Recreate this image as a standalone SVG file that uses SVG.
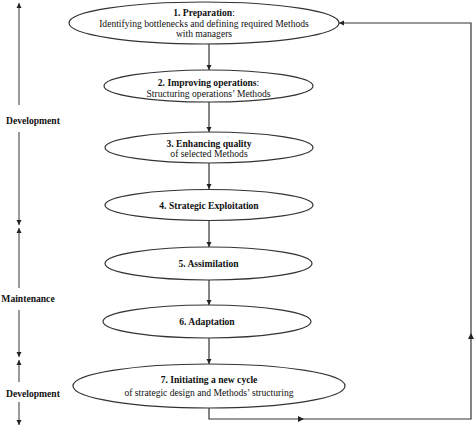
<svg xmlns="http://www.w3.org/2000/svg" width="474" height="428" viewBox="0 0 474 428">
<style>
  .n ellipse { fill: #fff; stroke: #333; stroke-width: 1.2; }
  text { font-family: "Liberation Serif", "Times New Roman", serif; font-size: 9.6px; fill: #111; text-anchor: middle; }
  .b { font-weight: bold; }
  .c line, .c path.l { stroke: #333; stroke-width: 1.2; fill: none; }
  .c path.h { fill: #222; stroke: none; }
  .t line { stroke: #555; stroke-width: 1.2; }
</style>
<defs>
  <marker id="ah" viewBox="0 0 10 10" refX="10" refY="5" markerWidth="5" markerHeight="6" orient="auto" markerUnits="userSpaceOnUse">
    <path d="M0,0 L10,5 L0,10 z" fill="#222"/>
  </marker>
</defs>
<rect width="474" height="428" fill="#fff"/>

<g class="c" id="connectors">
  <line x1="209" y1="44" x2="209" y2="70" marker-end="url(#ah)"/>
  <line x1="209" y1="101" x2="209" y2="132" marker-end="url(#ah)"/>
  <line x1="209" y1="163" x2="209" y2="189" marker-end="url(#ah)"/>
  <line x1="209" y1="221" x2="209" y2="247" marker-end="url(#ah)"/>
  <line x1="209" y1="280" x2="209" y2="305" marker-end="url(#ah)"/>
  <line x1="209" y1="338" x2="209" y2="364" marker-end="url(#ah)"/>
  <path class="l" d="M209,408 V419 H471 V23 H339" marker-end="url(#ah)"/>
  <path class="h" d="M304,419 L298,416 L298,422 z"/>
  <path class="h" d="M471,333 L468,339 L474,339 z"/>
</g>

<g class="t" id="timeline">
  <line x1="19" y1="105" x2="19" y2="3" marker-end="url(#ah)"/>
  <line x1="19" y1="132" x2="19" y2="225" marker-end="url(#ah)"/>
  <line x1="19" y1="288" x2="19" y2="228" marker-end="url(#ah)"/>
  <line x1="19" y1="310" x2="19" y2="357" marker-end="url(#ah)"/>
  <line x1="19" y1="382" x2="19" y2="360" marker-end="url(#ah)"/>
  <line x1="19" y1="402" x2="19" y2="425" marker-end="url(#ah)"/>
  <text class="b" x="33" y="123.5">Development</text>
  <text class="b" x="28" y="301.5">Maintenance</text>
  <text class="b" x="33" y="396.5">Development</text>
</g>

<g class="n" id="n1">
  <ellipse cx="204" cy="23" rx="135" ry="21"/>
  <text x="204" y="15.5"><tspan class="b">1. Preparation</tspan>:</text>
  <text x="204" y="26.5">Identifying bottlenecks and defining required Methods</text>
  <text x="204" y="37">with managers</text>
</g>
<g class="n" id="n2">
  <ellipse cx="208.5" cy="86" rx="104.5" ry="16"/>
  <text x="208.5" y="85.5"><tspan class="b">2. Improving operations</tspan>:</text>
  <text x="208.5" y="96.5">Structuring operations’ Methods</text>
</g>
<g class="n" id="n3">
  <ellipse cx="209" cy="147.5" rx="104" ry="15.5"/>
  <text class="b" x="209" y="146.5">3. Enhancing quality</text>
  <text x="209" y="156.5">of selected Methods</text>
</g>
<g class="n" id="n4">
  <ellipse cx="209" cy="205" rx="104" ry="15.5"/>
  <text class="b" x="209" y="208.5">4. Strategic Exploitation</text>
</g>
<g class="n" id="n5">
  <ellipse cx="208.5" cy="263.5" rx="103.5" ry="16.5"/>
  <text class="b" x="208.5" y="266.5">5. Assimilation</text>
</g>
<g class="n" id="n6">
  <ellipse cx="207" cy="321.5" rx="104" ry="16.5"/>
  <text class="b" x="207" y="325">6. Adaptation</text>
</g>
<g class="n" id="n7">
  <ellipse cx="209" cy="386" rx="136" ry="22"/>
  <text class="b" x="209" y="382.5">7. Initiating a new cycle</text>
  <text x="209" y="395.5">of strategic design and Methods’ structuring</text>
</g>
</svg>
